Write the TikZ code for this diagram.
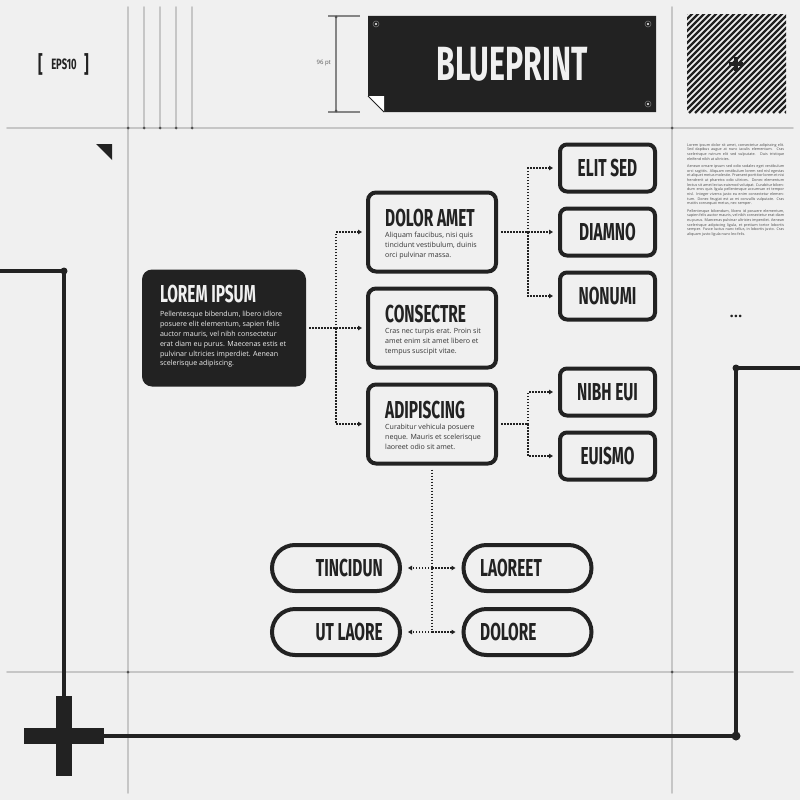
\documentclass[tikz,border=0pt]{standalone}
\usepackage{fontspec}
\setmainfont{Open Sans}
\newfontfamily\hd[FakeStretch=0.63]{Fira Sans Bold}
\newfontfamily\bd{Open Sans}
\usetikzlibrary{arrows.meta,calc}
\definecolor{ink}{HTML}{222222}
\definecolor{bg}{HTML}{F0F0F0}
\definecolor{gridc}{HTML}{C6C6C6}
\definecolor{gdot}{HTML}{505050}
\definecolor{dimc}{HTML}{858585}
\definecolor{bodyc}{HTML}{333333}
\tikzset{
  gridline/.style={draw=gridc, line width=1.6pt, line cap=round},
  inkline/.style={draw=ink, line width=4pt},
  dimline/.style={draw=dimc, line width=1.8pt},
  conn/.style={draw=ink, line width=1.5pt, dash pattern=on 1.5pt off 1.5pt},
  arr/.style={conn, -{Triangle[length=4pt,width=4.5pt]}, shorten >=4pt},
  infobox/.style={draw=ink, line width=4pt, rounded corners=8pt, minimum width=128pt, minimum height=79pt, inner sep=0pt},
  sbox/.style={draw=ink, line width=4pt, rounded corners=7pt, minimum width=95pt, minimum height=47pt, inner sep=0pt, font=\hd\fontsize{24.5}{24.5}\selectfont, text=ink},
  pill/.style={draw=ink, line width=4pt, rounded corners=23pt, minimum width=128pt, minimum height=46pt, inner sep=0pt},
  titletext/.style={anchor=base west, inner sep=0pt, font=\hd\fontsize{24.5}{24.5}\selectfont, text=ink},
  bodytext/.style={anchor=north west, inner sep=0pt, align=left, font=\bd\fontsize{7.1}{9.8}\selectfont, text=bodyc},
  pilltext/.style={inner sep=0pt, font=\hd\fontsize{24.5}{24.5}\selectfont, text=ink},
}
\begin{document}
\begin{tikzpicture}[x=1pt,y=-1pt]
\fill[bg] (0,0) rectangle (800,800);
\useasboundingbox (0,0) rectangle (800,800);

% grey grid
\draw[gridline] (7,128) -- (793,128);
\draw[gridline] (7,672) -- (793,672);
\draw[gridline] (128,7) -- (128,793);
\draw[gridline] (672,7) -- (672,793);
\foreach \x in {144,160,176,192} \draw[gridline] (\x,7) -- (\x,128);
\foreach \p in {(128,128),(144,128),(160,128),(176,128),(192,128),(672,128),(128,672),(672,672)}
  \fill[gdot] \p circle (1.5);

% EPS10 label
\node[inner sep=0pt, font=\hd\fontsize{23}{23}\selectfont, text=ink] (lbr) at (40.5,64) {[};
\node[inner sep=0pt, font=\hd\fontsize{15}{15}\selectfont, text=ink] (eps) at (64,64) {EPS10};
\node[inner sep=0pt, font=\hd\fontsize{23}{23}\selectfont, text=ink] (rbr) at (86.5,64) {]};

% dimension
\draw[dimline] (328,16) -- (360,16);
\draw[dimline] (328,112) -- (360,112);
\draw[dimline] (336,16) -- (336,112);
\fill[gdot] (336,17) circle (1.5);
\fill[gdot] (336,111) circle (1.5);
\node[anchor=east, inner sep=0pt, font=\bd\fontsize{6}{6}\selectfont, text=black!65] (dimlbl) at (331,63) {96 pt};

% blueprint banner
\fill[ink] (368,16) -- (656,16) -- (656,112) -- (384,112) -- (368,96) -- cycle;
\fill[white] (368,96) -- (384,96) -- (384,112) -- cycle;
\draw[ink, line width=1pt] (368,96) -- (384,112);
\foreach \p in {(376,24),(648,24),(648,104)} {
  \draw[black!55, line width=0.6pt] \p circle (3);
  \fill[white] \p circle (1.2);
}
\node[inner sep=0pt, font=\hd\fontsize{48}{48}\selectfont, text=bg] (bp) at (512,64) {BLUEPRINT};

% hatched square
\begin{scope}
\clip (687,15) rectangle (786,113);
\foreach \i in {0,...,34} \draw[ink, line width=2.2pt] (587+\i*6,113) -- ++(100,-100);
\end{scope}
\draw[ink, line width=4pt] (729,64) -- (743,64);
\draw[ink, line width=4pt] (736,57) -- (736,71);

% black triangle
\fill[ink] (96,144) -- (112,144) -- (112,160) -- cycle;

% thick black lines
\draw[inkline] (0,271) -- (64,271) -- (64,700);
\fill[ink] (64,271) circle (3.5);
\fill[ink] (56,696) rectangle (72,776);
\fill[ink] (24,728) rectangle (104,744);
\draw[inkline] (100,736) -- (736,736) -- (736,368) -- (800,368);
\fill[ink] (736,736) circle (4.5);
\fill[ink] (736,368) circle (3.5);

% right column text
\node[anchor=north west, inner sep=0pt, text width=97pt, align=justify, text=black!70,
      font=\bd\fontsize{3.7}{4.7}\selectfont] (coltext) at (687,143) {%
Lorem ipsum dolor sit amet, consectetur adipiscing elit. Sed dapibus augue at nunc iaculis elementum. Cras scelerisque rutrum elit sed vulputate. Duis tristique eleifend nibh at ultricies.\par\vspace{2.5pt}
Aenean ornare ipsum sed odio sodales eget vestibulum orci sagittis. Aliquam vestibulum lorem sed nisl egestas et aliquet metus molestie. Praesent porttitor lorem et nisi hendrerit ut pharetra odio ultrices. Donec elementum lectus sit amet lectus euismod volutpat. Curabitur bibendum eros quis ligula pellentesque accumsan et tempor nisl. Integer viverra justo eu enim consectetur elementum. Donec feugiat est ac mi convallis vulputate. Cras mattis consequat metus, nec semper.\par\vspace{2.5pt}
Pellentesque bibendum, libero id posuere elementum, sapien felis auctor mauris, vel nibh consectetur erat diam eu purus. Maecenas pulvinar ultricies imperdiet. Aenean scelerisque adipiscing ligula, et pretium tortor lobortis semper. Fusce luctus nunc tellus, in lobortis justo. Cras aliquam justo ligula nunc leo felis.};

\node[inner sep=0pt, font=\bd\bfseries\fontsize{15}{15}\selectfont, text=ink] (dots) at (736,316) {...};

% main dark box
\node[fill=ink, rounded corners=10pt, minimum width=164pt, minimum height=117pt, inner sep=0pt] (lorem) at (224,328) {};
\node[titletext, text=bg] (loremT) at ($(lorem.north west)+(18,33.5)$) {LOREM IPSUM};
\node[bodytext, text=black!6] (loremB) at ($(lorem.north west)+(18,42)$) {Pellentesque bibendum, libero idlore\\posuere elit elementum, sapien felis\\auctor mauris, vel nibh consectetur\\erat diam eu purus. Maecenas estis et\\pulvinar ultricies imperdiet. Aenean\\scelerisque adipiscing.};

% info boxes
\node[infobox] (dolor) at (432,232) {};
\node[infobox] (consec) at (432,328) {};
\node[infobox] (adip) at (432,424) {};
\node[titletext] (dolorT) at ($(dolor.north west)+(19,35.5)$) {DOLOR AMET};
\node[bodytext] (dolorB) at ($(dolor.north west)+(19,41.5)$) {Aliquam faucibus, nisi quis\\tincidunt vestibulum, duinis\\orci pulvinar massa.};
\node[titletext] (consecT) at ($(consec.north west)+(19,35.5)$) {CONSECTRE};
\node[bodytext] (consecB) at ($(consec.north west)+(19,41.5)$) {Cras nec turpis erat. Proin sit\\amet enim sit amet libero et\\tempus suscipit vitae.};
\node[titletext] (adipT) at ($(adip.north west)+(19,35.5)$) {ADIPISCING};
\node[bodytext] (adipB) at ($(adip.north west)+(19,41.5)$) {Curabitur vehicula posuere\\neque. Mauris et scelerisque\\laoreet odio sit amet.};

% small boxes
\node[sbox] (elit) at (607.5,168) {ELIT SED};
\node[sbox] (diamno) at (607.5,232) {DIAMNO};
\node[sbox] (nonumi) at (607.5,296) {NONUMI};
\node[sbox] (nibh) at (607.5,392) {NIBH EUI};
\node[sbox] (euismo) at (607.5,456) {EUISMO};

% pills
\node[pill] (tinc) at (336,568) {};
\node[pill] (utl) at (336,632) {};
\node[pill] (laor) at (527.5,568) {};
\node[pill] (dolore) at (527.5,632) {};
\node[pilltext, anchor=east] (tincT) at ($(tinc.center)+(47,0)$) {TINCIDUN};
\node[pilltext, anchor=east] (utlT) at ($(utl.center)+(47,0)$) {UT LAORE};
\node[pilltext, anchor=west] (laorT) at ($(laor.center)+(-47.5,0)$) {LAOREET};
\node[pilltext, anchor=west] (doloreT) at ($(dolore.center)+(-47.5,0)$) {DOLORE};

% connectors
\coordinate (j1) at (336,328);
\coordinate (j2) at (528,232);
\coordinate (j3) at (528,424);
\coordinate (j4) at (432,568);
\coordinate (j5) at (432,632);

\draw[conn, shorten <=3pt] (lorem.east) -- (j1);
\draw[conn] (j1) -- ++(0,-96);
\draw[conn] (j1) -- ++(0,96);
\draw[arr] (j1) |- (dolor.west);
\draw[arr] (j1) -- (consec.west);
\draw[arr] (j1) |- (adip.west);

\draw[conn, shorten <=3pt] (dolor.east) -- (j2);
\draw[arr, shorten >=5pt] (j2) |- (elit.west);
\draw[arr, shorten >=5pt] (j2) -- (diamno.west);
\draw[arr, shorten >=5pt] (j2) |- (nonumi.west);

\draw[conn, shorten <=3pt] (adip.east) -- (j3);
\draw[arr, shorten >=5pt] (j3) |- (nibh.west);
\draw[arr, shorten >=5pt] (j3) |- (euismo.west);

\draw[conn, shorten <=4pt] (adip.south) -- (j5);
\draw[arr, shorten >=6pt] (j4) -- (tinc.east);
\draw[arr, shorten >=6pt] (j4) -- (laor.west);
\draw[arr, shorten >=6pt] (j5) -- (utl.east);
\draw[arr, shorten >=6pt] (j5) -- (dolore.west);
\end{tikzpicture}
\end{document}
